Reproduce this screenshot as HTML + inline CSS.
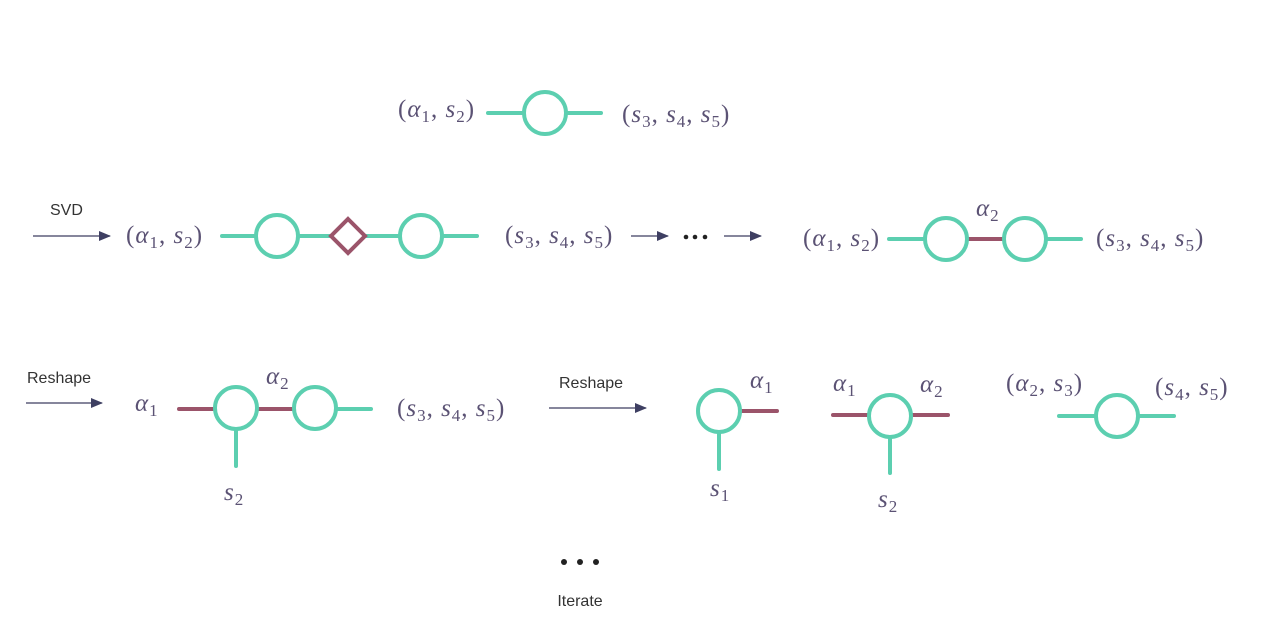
<!DOCTYPE html>
<html><head><meta charset="utf-8"><style>
html,body{margin:0;padding:0;background:#fff;}
svg{display:block}
.m{font-family:"Liberation Serif",serif;font-style:italic;font-size:25px;letter-spacing:1px;fill:#5b5274}
.m tspan.s{font-style:normal;font-size:17px}
.m tspan.p{font-style:normal}
.l{font-family:"Liberation Sans",sans-serif;font-size:16px;fill:#333}
.t{stroke:#5ccfb0;stroke-width:4;fill:none;stroke-linecap:round}
.r{stroke:#9b546a;stroke-width:4;fill:none;stroke-linecap:round}
.a{stroke:#3e3f62;stroke-width:1.3}
</style></head><body>
<svg width="1268" height="632" viewBox="0 0 1268 632" xmlns="http://www.w3.org/2000/svg">
<defs><marker id="ah" markerWidth="12" markerHeight="10" refX="11" refY="5" orient="auto" markerUnits="userSpaceOnUse"><path d="M0,0 L12,5 L0,10 z" fill="#3e3f62"/></marker></defs>

<!-- Row 1 -->
<text class="m" x="398" y="117"><tspan class="p">(</tspan>α<tspan class="s" dy="5">1</tspan><tspan class="p" dy="-5">, </tspan>s<tspan class="s" dy="5">2</tspan><tspan class="p" dy="-5">)</tspan></text>
<line class="t" x1="488" y1="113" x2="524" y2="113"/><line class="t" x1="566" y1="113" x2="601" y2="113"/>
<circle class="t" cx="545" cy="113" r="21"/>
<text class="m" x="622" y="122"><tspan class="p">(</tspan>s<tspan class="s" dy="5">3</tspan><tspan class="p" dy="-5">, </tspan>s<tspan class="s" dy="5">4</tspan><tspan class="p" dy="-5">, </tspan>s<tspan class="s" dy="5">5</tspan><tspan class="p" dy="-5">)</tspan></text>

<!-- Row 2 -->
<text class="l" x="50" y="215">SVD</text>
<line class="a" x1="33" y1="236" x2="110" y2="236" marker-end="url(#ah)"/>
<text class="m" x="126" y="243"><tspan class="p">(</tspan>α<tspan class="s" dy="5">1</tspan><tspan class="p" dy="-5">, </tspan>s<tspan class="s" dy="5">2</tspan><tspan class="p" dy="-5">)</tspan></text>
<line class="t" x1="222" y1="236" x2="477" y2="236"/>
<circle class="t" cx="277" cy="236" r="21" style="fill:#fff"/>
<circle class="t" cx="421" cy="236" r="21" style="fill:#fff"/>
<path class="r" d="M348,219 L365,236 L348,253 L331,236 Z" style="fill:#fff"/>
<text class="m" x="505" y="243"><tspan class="p">(</tspan>s<tspan class="s" dy="5">3</tspan><tspan class="p" dy="-5">, </tspan>s<tspan class="s" dy="5">4</tspan><tspan class="p" dy="-5">, </tspan>s<tspan class="s" dy="5">5</tspan><tspan class="p" dy="-5">)</tspan></text>
<line class="a" x1="631" y1="236" x2="668" y2="236" marker-end="url(#ah)"/>
<circle cx="686" cy="237" r="2.3" fill="#222"/><circle cx="695" cy="237" r="2.3" fill="#222"/><circle cx="705" cy="237" r="2.3" fill="#222"/>
<line class="a" x1="724" y1="236" x2="761" y2="236" marker-end="url(#ah)"/>
<text class="m" x="803" y="246"><tspan class="p">(</tspan>α<tspan class="s" dy="5">1</tspan><tspan class="p" dy="-5">, </tspan>s<tspan class="s" dy="5">2</tspan><tspan class="p" dy="-5">)</tspan></text>
<line class="t" x1="889" y1="239" x2="925" y2="239"/><line class="t" x1="1046" y1="239" x2="1081" y2="239"/>
<line class="r" x1="967" y1="239" x2="1003" y2="239"/>
<circle class="t" cx="946" cy="239" r="21"/><circle class="t" cx="1025" cy="239" r="21"/>
<text class="m" x="976" y="216">α<tspan class="s" dy="5">2</tspan></text>
<text class="m" x="1096" y="246"><tspan class="p">(</tspan>s<tspan class="s" dy="5">3</tspan><tspan class="p" dy="-5">, </tspan>s<tspan class="s" dy="5">4</tspan><tspan class="p" dy="-5">, </tspan>s<tspan class="s" dy="5">5</tspan><tspan class="p" dy="-5">)</tspan></text>

<!-- Row 3 left -->
<text class="l" x="27" y="383">Reshape</text>
<line class="a" x1="26" y1="403" x2="102" y2="403" marker-end="url(#ah)"/>
<text class="m" x="135" y="411">α<tspan class="s" dy="5">1</tspan></text>
<line class="r" x1="179" y1="409" x2="215" y2="409"/><line class="r" x1="257" y1="409" x2="293" y2="409"/>
<line class="t" x1="336" y1="409" x2="371" y2="409"/>
<line class="t" x1="236" y1="430" x2="236" y2="466"/>
<circle class="t" cx="236" cy="408" r="21"/><circle class="t" cx="315" cy="408" r="21"/>
<text class="m" x="266" y="384">α<tspan class="s" dy="5">2</tspan></text>
<text class="m" x="224" y="500">s<tspan class="s" dy="5">2</tspan></text>
<text class="m" x="397" y="416"><tspan class="p">(</tspan>s<tspan class="s" dy="5">3</tspan><tspan class="p" dy="-5">, </tspan>s<tspan class="s" dy="5">4</tspan><tspan class="p" dy="-5">, </tspan>s<tspan class="s" dy="5">5</tspan><tspan class="p" dy="-5">)</tspan></text>

<!-- Row 3 right -->
<text class="l" x="559" y="388">Reshape</text>
<line class="a" x1="549" y1="408" x2="646" y2="408" marker-end="url(#ah)"/>
<line class="r" x1="740" y1="411" x2="777" y2="411"/>
<line class="t" x1="719" y1="433" x2="719" y2="469"/>
<circle class="t" cx="719" cy="411" r="21"/>
<text class="m" x="750" y="388">α<tspan class="s" dy="5">1</tspan></text>
<text class="m" x="710" y="496">s<tspan class="s" dy="5">1</tspan></text>

<line class="r" x1="833" y1="415" x2="869" y2="415"/><line class="r" x1="911" y1="415" x2="948" y2="415"/>
<line class="t" x1="890" y1="437" x2="890" y2="473"/>
<circle class="t" cx="890" cy="416" r="21"/>
<text class="m" x="833" y="391">α<tspan class="s" dy="5">1</tspan></text>
<text class="m" x="920" y="392">α<tspan class="s" dy="5">2</tspan></text>
<text class="m" x="878" y="507">s<tspan class="s" dy="5">2</tspan></text>

<line class="t" x1="1059" y1="416" x2="1096" y2="416"/><line class="t" x1="1138" y1="416" x2="1174" y2="416"/>
<circle class="t" cx="1117" cy="416" r="21"/>
<text class="m" x="1006" y="391"><tspan class="p">(</tspan>α<tspan class="s" dy="5">2</tspan><tspan class="p" dy="-5">, </tspan>s<tspan class="s" dy="5">3</tspan><tspan class="p" dy="-5">)</tspan></text>
<text class="m" x="1155" y="395"><tspan class="p">(</tspan>s<tspan class="s" dy="5">4</tspan><tspan class="p" dy="-5">, </tspan>s<tspan class="s" dy="5">5</tspan><tspan class="p" dy="-5">)</tspan></text>

<!-- Iterate -->
<circle cx="564" cy="562" r="3" fill="#222"/><circle cx="580" cy="562" r="3" fill="#222"/><circle cx="596" cy="562" r="3" fill="#222"/>
<text class="l" x="580" y="606" text-anchor="middle">Iterate</text>
</svg>
</body></html>
